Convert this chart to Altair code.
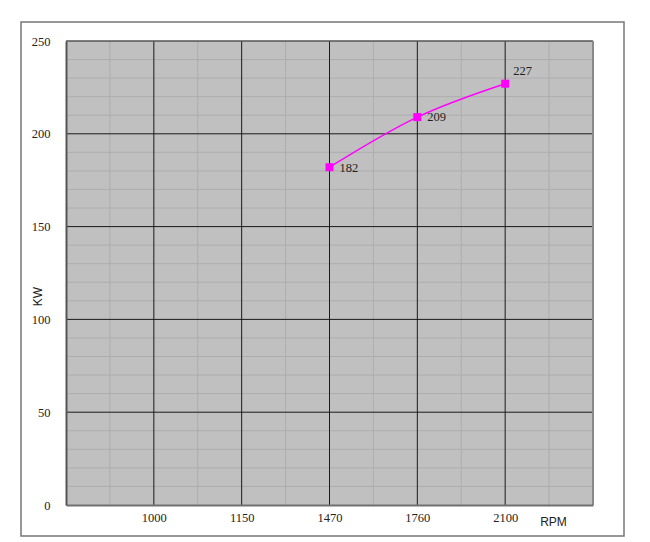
import altair as alt
import pandas as pd

# Data
rpm_labels = ["1000", "1150", "1470", "1760", "2100"]
rpm_pos = [3, 4, 5]            # category positions of the points (1470, 1760, 2100)
kw_values = [182, 209, 227]
label_dx = [10, 10, 8]
label_dy = [1, 0, -13]

y_minor = [v for v in range(10, 250, 10) if v % 50 != 0]
y_major = [50, 100, 150, 200]
x_minor = [0.5, 1.5, 2.5, 3.5, 4.5, 5.5]
x_major = [1, 2, 3, 4, 5]

pts = pd.DataFrame({"x": rpm_pos, "kw": kw_values, "lab": [str(v) for v in kw_values]})

xs = alt.Scale(domain=[0, 6], nice=False, zero=False)
ys = alt.Scale(domain=[0, 250], nice=False)

W, H = 527, 464
SERIF = "Liberation Serif"

label_expr = ("datum.value==1?'" + rpm_labels[0] + "':datum.value==2?'" + rpm_labels[1] +
              "':datum.value==3?'" + rpm_labels[2] + "':datum.value==4?'" + rpm_labels[3] +
              "':datum.value==5?'" + rpm_labels[4] + "':''")

xaxis = alt.Axis(
    values=x_major, labelExpr=label_expr, title="RPM", grid=False, ticks=False, zindex=1,
    domain=True, domainColor="#707070", domainWidth=2,
    labelFont=SERIF, labelFontSize=12.5, labelColor="#222222", labelPadding=6,
    titleFont="Liberation Sans", titleFontSize=12, titleFontWeight="normal", titleColor="#222222",
    titleX=487, titleY=16, titleAlign="center", titleBaseline="middle")
yaxis = alt.Axis(
    values=[0, 50, 100, 150, 200, 250], title="KW", grid=False, ticks=False, zindex=1,
    domain=True, domainColor="#555555", domainWidth=2,
    labelFont=SERIF, labelFontSize=12.5, labelColor="#222222", labelPadding=16,
    titleFont="Liberation Sans", titleFontSize=12, titleFontWeight="normal", titleColor="#222222",
    titleX=-29, titleY=255, titleAngle=-90, titleAlign="center", titleBaseline="middle")

border = alt.Chart(pd.DataFrame({"a": [0]})).mark_rect(
    fill="white", stroke="#777777", strokeWidth=1.5
).encode(x=alt.value(-45), x2=alt.value(558), y=alt.value(-19), y2=alt.value(495))

bg = alt.Chart(pd.DataFrame({"a": [0]})).mark_rect(fill="#C0C0C0").encode(
    x=alt.value(0), x2=alt.value(W), y=alt.value(0), y2=alt.value(H))

top = alt.Chart(pd.DataFrame({"a": [0]})).mark_rule(color="#555555", strokeWidth=1.5).encode(
    x=alt.value(0), x2=alt.value(W), y=alt.value(0))
right = alt.Chart(pd.DataFrame({"a": [0]})).mark_rule(color="#8a8a8a", strokeWidth=2).encode(
    x=alt.value(W), y=alt.value(0), y2=alt.value(H))

ymin = alt.Chart(pd.DataFrame({"v": y_minor})).mark_rule(color="#ADADAD", strokeWidth=1).encode(
    y=alt.Y("v:Q", scale=ys, axis=yaxis))
xmin = alt.Chart(pd.DataFrame({"v": x_minor})).mark_rule(color="#ADADAD", strokeWidth=1).encode(
    x=alt.X("v:Q", scale=xs, axis=xaxis))
ymaj = alt.Chart(pd.DataFrame({"v": y_major})).mark_rule(color="#1a1a1a", strokeWidth=1).encode(
    y=alt.Y("v:Q", scale=ys, axis=yaxis))
xmaj = alt.Chart(pd.DataFrame({"v": x_major})).mark_rule(color="#1a1a1a", strokeWidth=1).encode(
    x=alt.X("v:Q", scale=xs, axis=xaxis))

line = alt.Chart(pts).mark_line(color="#FF00FF", strokeWidth=1.5, interpolate="monotone").encode(
    x=alt.X("x:Q", scale=xs, axis=xaxis), y=alt.Y("kw:Q", scale=ys, axis=yaxis))
points = alt.Chart(pts).mark_square(color="#FF00FF", size=64, opacity=1).encode(
    x=alt.X("x:Q", scale=xs, axis=xaxis), y=alt.Y("kw:Q", scale=ys, axis=yaxis))

label_layers = []
for i in range(len(kw_values)):
    label_layers.append(
        alt.Chart(pts.iloc[[i]]).mark_text(
            align="left", baseline="middle", font=SERIF, fontSize=12.5, color="#222222",
            dx=label_dx[i], dy=label_dy[i]
        ).encode(x=alt.X("x:Q", scale=xs, axis=xaxis), y=alt.Y("kw:Q", scale=ys, axis=yaxis),
                 text="lab:N"))

chart = alt.layer(border, bg, ymin, xmin, ymaj, xmaj, top, right, line, points, *label_layers).properties(
    width=W, height=H, padding={"left": 58, "top": 33, "right": 49, "bottom": 40},
    autosize=alt.AutoSizeParams(type="none"),
).configure_view(stroke=None).configure(background="white")

chart.save("out.html", embed_options={"renderer": "svg", "actions": False})
